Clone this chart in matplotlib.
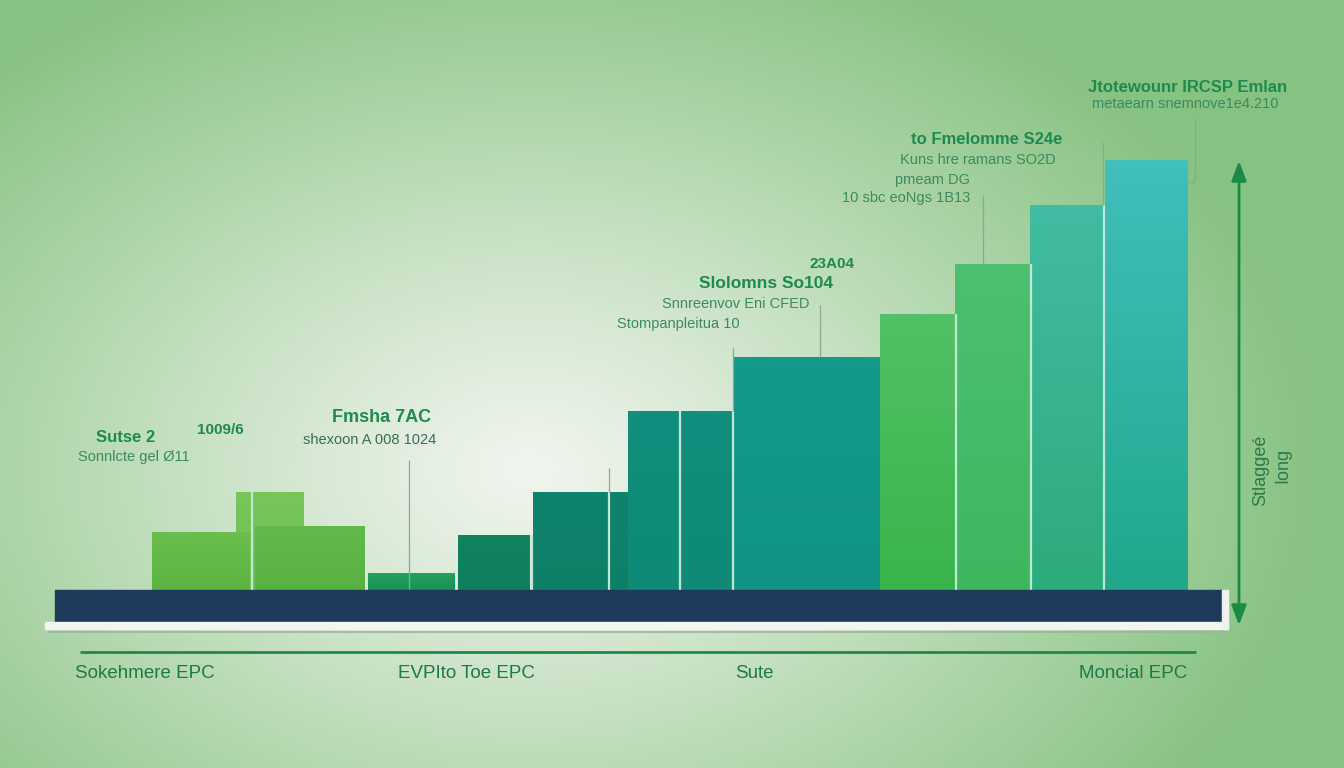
import numpy as np
import matplotlib
matplotlib.use("Agg")
import matplotlib.pyplot as plt
from matplotlib.colors import LinearSegmentedColormap, to_rgb
from matplotlib.patches import Rectangle

plt.rcParams["font.family"] = ["Liberation Sans", "DejaVu Sans"]

# data
bar_names = ["A", "B", "C", "D", "E", "F", "G", "H", "I", "J", "K", "L"]
bar_values = [5.8, 9.8, 6.4, 1.7, 5.5, 9.8, 17.9, 23.3, 27.6, 32.6, 38.5, 43.0]
categories = ["Sokehmere EPC", "EVPIto Toe EPC", "Sute", "Moncial EPC"]
callout_titles = ["Sutse 2", "1009/6", "Fmsha 7AC", "23A04", "Slolomns So104",
                  "to Fmelomme S24e", "Jtotewounr IRCSP Emlan"]
callout_notes = ["Sonnlcte gel \u00d811", "shexoon A 008 1024", "Snnreenvov Eni CFED",
                 "Stompanpleitua 10", "Kuns hre ramans SO2D", "pmeam DG",
                 "10 sbc eoNgs 1B13", "metaearn snemnove1e4.210"]
side_labels = ["Stlaggeé", "Iong"]

# layout (x in pixel-like units, y in value units)
bar_left = [152, 236, 255, 368, 458, 533, 628, 733, 880, 955, 1030, 1105]
bar_right = [250, 304, 365, 455, 530, 628, 733, 880, 955, 1030, 1103, 1188]
bar_bottom_col = ["#5cb541", "#6cbf4e", "#58b241", "#17915a", "#0f7f5e", "#0d8068",
                  "#0e8a76", "#119486", "#39b44b", "#3db75e", "#2bac7c", "#21a88b"]
bar_top_col = ["#6abe4c", "#78c65a", "#62b94a", "#24a25a", "#11835f", "#0f846c",
               "#10907c", "#14998a", "#52c066", "#4cc070", "#40bca2", "#40bfbb"]
cat_x = [145, 466, 754, 1133]
YMIN, YMAX = -17.8, 59.0

fig = plt.figure(figsize=(13.44, 7.68), dpi=100)
ax = fig.add_axes([0, 0, 1, 1])
ax.set_axis_off()

# background radial glow
xx, yy = np.meshgrid(np.linspace(0, 1344, 400), np.linspace(0, 768, 230))
r = np.sqrt(((xx - 530) / 800) ** 2 + ((yy - 470) / 560) ** 2)
t = np.clip(r, 0, 1) ** 1.1
c0, c1 = np.array(to_rgb("#f1f5ee")), np.array(to_rgb("#86c281"))
bg = c0[None, None, :] * (1 - t[..., None]) + c1[None, None, :] * t[..., None]
ax.imshow(bg, extent=[0, 1344, YMIN, YMAX], aspect="auto", zorder=0, origin="upper")

# bars with vertical gradient
order = [1, 0, 2, 3, 4, 5, 6, 7, 8, 9, 10, 11]
for i in order:
    w = bar_right[i] - bar_left[i]
    b = ax.bar(bar_left[i], bar_values[i], width=w, align="edge",
               color=bar_bottom_col[i], linewidth=0, zorder=2)[0]
    cm = LinearSegmentedColormap.from_list("g", [bar_bottom_col[i], bar_top_col[i]])
    grad = np.linspace(1, 0, 50).reshape(-1, 1)
    im = ax.imshow(grad, extent=[bar_left[i], bar_right[i], 0, bar_values[i]],
                   cmap=cm, aspect="auto", zorder=2.1)
    im.set_clip_path(b)

# light separators between bars
sep_x = [252, 532, 609, 680, 733, 956, 1031, 1104]
sep_top = [9.8, 5.5, 9.8, 17.9, 17.9, 27.6, 32.6, 38.5]
ax.vlines(sep_x, 0, sep_top, color="#bfe6d6", lw=1.6, zorder=3)

# leader lines
lead_x = [409, 609, 733, 820, 983, 1103, 1195]
lead_y0 = [0.0, 9.8, 17.9, 23.3, 32.6, 38.5, 40.8]
lead_y1 = [13.0, 12.2, 24.2, 28.5, 39.5, 44.8, 47.2]
ax.vlines(lead_x, lead_y0, lead_y1, color="#8aa898", lw=0.9, zorder=3)
ax.hlines(40.8, 1188, 1195, color="#8aa898", lw=0.9, zorder=3)

# base bar
ax.add_patch(Rectangle((55, -3.2), 1167, 3.2, color="#1f3a5a", zorder=4))
ax.add_patch(Rectangle((45, -3.9), 1183, 0.7, color="#f3f5f1", zorder=4))
ax.add_patch(Rectangle((1222, -3.9), 6, 3.9, color="#eef2ec", zorder=4))
ax.hlines(-4.15, 48, 1225, color="#9cb59a", lw=1.2, zorder=3.5)

# axis line and categories
ax.hlines(-6.2, 80, 1196, color="#1f8a48", lw=2, zorder=4)
for x, lab in zip(cat_x, categories):
    ax.text(x, -8.3, lab, ha="center", va="center", fontsize=13.5,
            color="#1c7a44", zorder=5)

# vertical double arrow
ax.annotate("", xy=(1239, 43.2), xytext=(1239, -3.8),
            arrowprops=dict(arrowstyle="<|-|>,head_length=1.2,head_width=0.45",
                            color="#1a8a45", lw=2), zorder=5)
ax.text(1261, 12, side_labels[0], rotation=90, ha="center", va="center",
        fontsize=13, color="#2a7a4a", zorder=5)
ax.text(1283, 12.5, side_labels[1], rotation=90, ha="center", va="center",
        fontsize=13, color="#2a7a4a", zorder=5)

# callouts
title_kw = dict(fontweight="bold", color="#1e8a4e", zorder=5, va="center")
note_kw = dict(color="#3c8a5e", zorder=5, va="center")
ax.text(126, 15.2, callout_titles[0], ha="center", fontsize=12, **title_kw)
ax.text(134, 13.3, callout_notes[0], ha="center", fontsize=10.5, **note_kw)
ax.text(220, 16.0, callout_titles[1], ha="center", fontsize=11, **title_kw)
ax.text(382, 17.2, callout_titles[2], ha="center", fontsize=13, **title_kw)
ax.text(370, 15.0, callout_notes[1], ha="center", fontsize=10.5, color="#3a6e55",
        zorder=5, va="center")
ax.text(855, 32.6, callout_titles[3], ha="right", fontsize=11, **title_kw)
ax.text(833, 30.7, callout_titles[4], ha="right", fontsize=12.5, **title_kw)
ax.text(810, 28.6, callout_notes[2], ha="right", fontsize=10.5, **note_kw)
ax.text(740, 26.6, callout_notes[3], ha="right", fontsize=10.5, **note_kw)
ax.text(1062, 45.0, callout_titles[5], ha="right", fontsize=12, **title_kw)
ax.text(1056, 43.0, callout_notes[4], ha="right", fontsize=10.5, **note_kw)
ax.text(970, 41.0, callout_notes[5], ha="right", fontsize=10.5, **note_kw)
ax.text(970, 39.2, callout_notes[6], ha="right", fontsize=10.5, **note_kw)
ax.text(1287, 50.3, callout_titles[6], ha="right", fontsize=12, **title_kw)
ax.text(1278, 48.6, callout_notes[7], ha="right", fontsize=10.5, **note_kw)

ax.set_xlim(0, 1344)
ax.set_ylim(YMIN, YMAX)
fig.savefig("out.png", dpi=100)
